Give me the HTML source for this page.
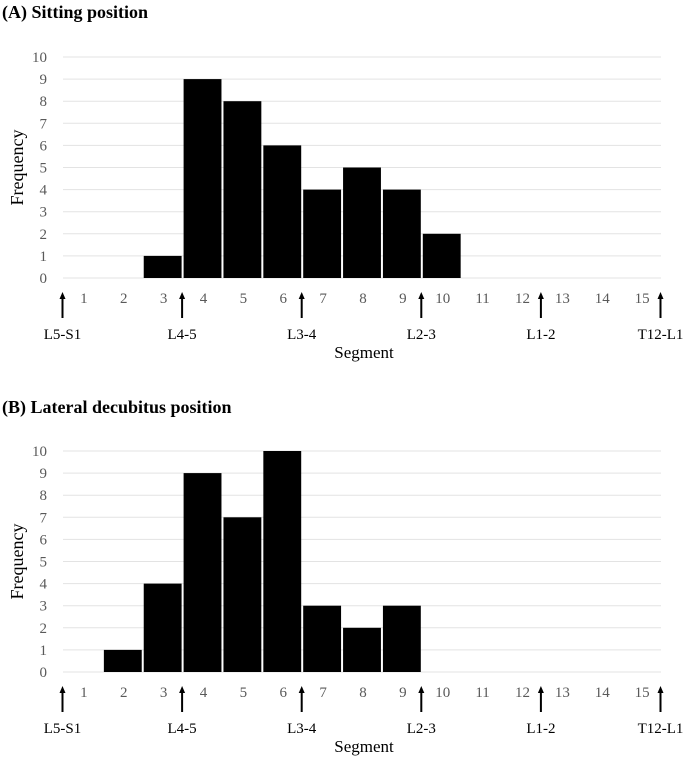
<!DOCTYPE html>
<html><head><meta charset="utf-8"><style>
body{margin:0;background:#fff;}
svg{display:block;font-family:"Liberation Serif",serif;}
</style></head><body>
<svg id="chart" width="685" height="766"></svg>
<script>
const categories=[1,2,3,4,5,6,7,8,9,10,11,12,13,14,15];
const sittingValues=[0,0,1,9,8,6,4,5,4,2,0,0,0,0,0];
const lateralValues=[0,1,4,9,7,10,3,2,3,0,0,0,0,0,0];
const yTicks=[0,1,2,3,4,5,6,7,8,9,10];
const levelLabels=["L5-S1","L4-5","L3-4","L2-3","L1-2","T12-L1"];
const levelBoundaries=[0.5,3.5,6.5,9.5,12.5,15.5];
const NS="http://www.w3.org/2000/svg";
const svg=document.getElementById('chart');
function mk(t,a,txt){const e=document.createElementNS(NS,t);for(const k in a)e.setAttribute(k,a[k]);if(txt!==undefined)e.textContent=txt;svg.appendChild(e);return e;}
const X0=63,X1=661,bw=(X1-X0)/15;
function xb(v){return X0+(v-0.5)*bw;}
function panel(key,title,titleY,values,y0,unit){
  const yv=v=>y0-v*unit;
  let e=mk('text',{x:2,y:titleY,'font-size':18,'font-weight':'bold'},title);
  
  yTicks.forEach(t=>{
    e=mk('line',{x1:X0,x2:X1,y1:yv(t),y2:yv(t),stroke:'#e3e3e3','stroke-width':1});
    
    e=mk('text',{x:47,y:yv(t)+5,'font-size':15,fill:'#595959','text-anchor':'end'},t);
    
  });
  values.forEach((v,i)=>{
    if(v<=0)return;
    const c=categories[i];
    e=mk('rect',{x:xb(c-0.5)+1,y:yv(v),width:bw-2,height:v*unit,fill:'#000'});
    
  });
  categories.forEach(c=>{
    e=mk('text',{x:xb(c)+1,y:y0+25,'font-size':15,fill:'#595959','text-anchor':'middle'},c);
    
  });
  levelBoundaries.forEach((b,i)=>{
    const x=xb(b)-0.5;
    e=mk('line',{x1:x,x2:x,y1:y0+20,y2:y0+40,stroke:'#000','stroke-width':2});
    
    e=mk('path',{d:`M${x-3},${y0+21} L${x},${y0+14} L${x+3},${y0+21}Z`,fill:'#000'});
    
    e=mk('text',{x:x,y:y0+61,'font-size':15,'text-anchor':'middle'},levelLabels[i]);
    
  });
  e=mk('text',{x:364,y:y0+80,'font-size':17,'text-anchor':'middle'},'Segment');
  
  const cy=yv(5);
  e=mk('text',{x:0,y:0,'font-size':18,'text-anchor':'middle',transform:`translate(23,${cy}) rotate(-90)`},'Frequency');
  
}
panel('sitting','(A) Sitting position',18,sittingValues,278,22.1);
panel('lateral','(B) Lateral decubitus position',413,lateralValues,672,22.1);
</script>
</body></html>
